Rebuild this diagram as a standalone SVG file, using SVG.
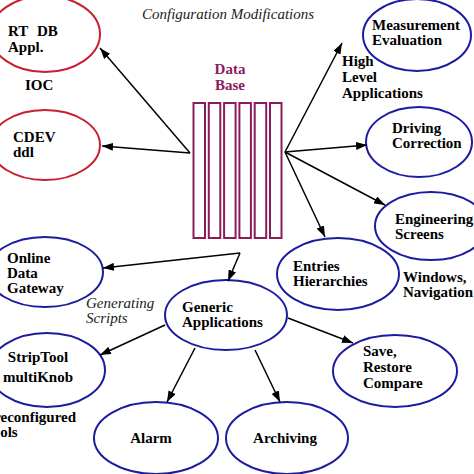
<svg xmlns="http://www.w3.org/2000/svg" width="474" height="474" viewBox="0 0 474 474">
<style>
.t{font-family:"Liberation Serif","Times New Roman",serif;font-weight:bold;font-size:15px;fill:#000}
.i{font-family:"Liberation Serif","Times New Roman",serif;font-style:italic;font-size:15px;fill:#222}
.red{fill:none;stroke:#c8202e;stroke-width:2}
.blue{fill:none;stroke:#1c1ca0;stroke-width:2}
.db{fill:none;stroke:#8b1c5c;stroke-width:2}
.c{fill:none;stroke:#000;stroke-width:1.5;marker-end:url(#ah)}
</style>
<defs>
<marker id="ah" markerUnits="userSpaceOnUse" markerWidth="12" markerHeight="8" refX="11" refY="4" orient="auto">
<path d="M0,0 L11,4 L0,8 Z" fill="#000"/>
</marker>
</defs>
<rect width="474" height="474" fill="#fff"/>
<text class="i" x="142" y="19">Configuration Modifications</text>
<g id="database">
<text class="t" x="230" y="74" text-anchor="middle" style="fill:#8b1c5c">Data</text>
<text class="t" x="230" y="90" text-anchor="middle" style="fill:#8b1c5c">Base</text>
<rect class="db" x="193.5" y="103" width="11.5" height="135"/>
<rect class="db" x="208.8" y="103" width="11.5" height="135"/>
<rect class="db" x="224.1" y="103" width="11.5" height="135"/>
<rect class="db" x="239.4" y="103" width="11.5" height="135"/>
<rect class="db" x="254.7" y="103" width="11.5" height="135"/>
<rect class="db" x="270" y="103" width="11.5" height="135"/>
</g>
<g id="rtdb">
<ellipse class="red" cx="45" cy="34" rx="55" ry="38"/>
<text class="t" x="8" y="36">RT<tspan x="37">DB</tspan></text>
<text class="t" x="8" y="52">Appl.</text>
</g>
<g id="ioc"><text class="t" x="25" y="90">IOC</text></g>
<g id="cdev">
<ellipse class="red" cx="45" cy="145" rx="55" ry="35"/>
<text class="t" x="13" y="142">CDEV</text>
<text class="t" x="13" y="157">ddl</text>
</g>
<g id="measurement">
<ellipse class="blue" cx="417" cy="35" rx="54" ry="36"/>
<text class="t" x="372" y="30">Measurement</text>
<text class="t" x="372" y="45">Evaluation</text>
</g>
<g id="highlevel">
<text class="t" x="342" y="66">High</text>
<text class="t" x="342" y="82">Level</text>
<text class="t" x="342" y="98">Applications</text>
</g>
<g id="driving">
<ellipse class="blue" cx="419" cy="142" rx="53" ry="35"/>
<text class="t" x="392" y="133">Driving</text>
<text class="t" x="392" y="148">Correction</text>
</g>
<g id="engineering">
<ellipse class="blue" cx="431" cy="226" rx="56" ry="34"/>
<text class="t" x="395" y="224">Engineering</text>
<text class="t" x="395" y="239">Screens</text>
</g>
<g id="windows">
<text class="t" x="403" y="282">Windows,</text>
<text class="t" x="403" y="297">Navigation</text>
</g>
<g id="entries">
<ellipse class="blue" cx="338" cy="274" rx="61" ry="36"/>
<text class="t" x="293" y="271">Entries</text>
<text class="t" x="293" y="286">Hierarchies</text>
</g>
<g id="online">
<ellipse class="blue" cx="45" cy="272" rx="58" ry="35"/>
<text class="t" x="7" y="263">Online</text>
<text class="t" x="7" y="278">Data</text>
<text class="t" x="7" y="293">Gateway</text>
</g>
<g id="generating">
<text class="i" x="86" y="308">Generating</text>
<text class="i" x="86" y="323">Scripts</text>
</g>
<g id="generic">
<ellipse class="blue" cx="226" cy="315" rx="61" ry="35"/>
<text class="t" x="182" y="312">Generic</text>
<text class="t" x="182" y="327">Applications</text>
</g>
<g id="striptool">
<ellipse class="blue" cx="47" cy="370" rx="58" ry="37"/>
<text class="t" x="38" y="362" text-anchor="middle">StripTool</text>
<text class="t" x="38" y="382" text-anchor="middle">multiKnob</text>
</g>
<g id="preconfigured">
<text class="t" x="-15" y="422">Preconfigured</text>
<text class="t" x="-16" y="437">Tools</text>
</g>
<g id="save">
<ellipse class="blue" cx="395" cy="371" rx="62" ry="36"/>
<text class="t" x="363" y="356">Save,</text>
<text class="t" x="363" y="372">Restore</text>
<text class="t" x="363" y="388">Compare</text>
</g>
<g id="alarm">
<ellipse class="blue" cx="156" cy="438" rx="62" ry="36"/>
<text class="t" x="151" y="443" text-anchor="middle">Alarm</text>
</g>
<g id="archiving">
<ellipse class="blue" cx="287" cy="438" rx="61" ry="36"/>
<text class="t" x="285" y="443" text-anchor="middle">Archiving</text>
</g>
<g id="connectors">
<line class="c" x1="190" y1="153" x2="100" y2="48"/>
<line class="c" x1="190" y1="153" x2="102" y2="146"/>
<line class="c" x1="285" y1="152" x2="342" y2="43"/>
<line class="c" x1="285" y1="152" x2="367" y2="145"/>
<line class="c" x1="285" y1="152" x2="385" y2="205"/>
<line class="c" x1="285" y1="152" x2="325" y2="237"/>
<line class="c" x1="240" y1="253" x2="103" y2="268"/>
<line class="c" x1="240" y1="253" x2="228" y2="281"/>
<line class="c" x1="165" y1="325" x2="100" y2="355"/>
<line class="c" x1="195" y1="348" x2="167" y2="402"/>
<line class="c" x1="255" y1="350" x2="280" y2="402"/>
<line class="c" x1="288" y1="318" x2="353" y2="343"/>
</g>
</svg>
